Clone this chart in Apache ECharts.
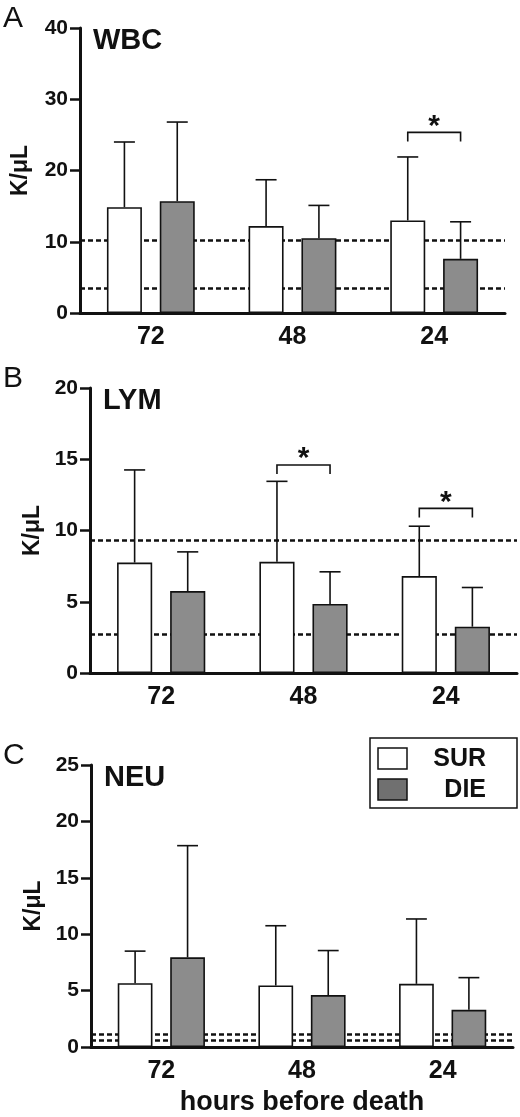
<!DOCTYPE html>
<html>
<head>
<meta charset="utf-8">
<script src="https://cdn.jsdelivr.net/npm/echarts@6/dist/echarts.min.js"></script>
<style>
  html, body { margin: 0; padding: 0; background: #fff; }
  #main { width: 520px; height: 1117px; }
</style>
</head>
<body>
<div id="main"></div>
<script>
// categories (hours before death)
var hours = ['72', '48', '24'];

// WBC (K/uL): mean and top of error bar
var wbcSur = [14.85, 12.2, 13.0];
var wbcSurTop = [24.0, 18.7, 21.9];
var wbcDie = [15.7, 10.5, 7.6];
var wbcDieTop = [26.8, 15.1, 12.8];
var wbcRef = [10.2, 3.5];
var wbcSig = [[2, 25.35]];

// LYM
var lymSur = [7.75, 7.8, 6.8];
var lymSurTop = [14.25, 13.45, 10.3];
var lymDie = [5.75, 4.85, 3.25];
var lymDieTop = [8.5, 7.1, 6.0];
var lymRef = [9.35, 2.7];
var lymSig = [[1, 14.6], [2, 11.55]];

// NEU
var neuSur = [5.65, 5.45, 5.6];
var neuSurTop = [8.5, 10.75, 11.35];
var neuDie = [7.95, 4.6, 3.3];
var neuDieTop = [17.85, 8.55, 6.15];
var neuRef = [1.15, 0.6];
var neuSig = [];

var yMax = [40, 20, 25];
var yStep = [10, 5, 5];
var titles = ['WBC', 'LYM', 'NEU'];
var letters = ['A', 'B', 'C'];

var FONT = 'Liberation Sans, Arial, Helvetica, sans-serif';
var INK = '#111';
var GREY = '#8c8c8c';
var BAR = 0.247;   // bar width as part of band
var GAP = 0.51;    // gap between the two bars, part of bar width

var chart = echarts.init(document.getElementById('main'));

function zip(a, b) {
  return a.map(function (v, i) { return [i, v, b[i]]; });
}

// error bar (upper only) drawn over bar
function errItem(side) {
  return function (params, api) {
    var i = api.value(0);
    var band = api.size([1, 0])[0];
    var bw = band * BAR;
    var off = side * (bw + bw * GAP) / 2;
    var p0 = api.coord([i, api.value(1)]);
    var p1 = api.coord([i, api.value(2)]);
    var x = p0[0] + off;
    var cap = bw * 0.3;
    var st = { stroke: INK, lineWidth: 1.6 };
    return {
      type: 'group',
      children: [
        { type: 'line', shape: { x1: x, y1: p0[1], x2: x, y2: p1[1] }, style: st },
        { type: 'line', shape: { x1: x - cap, y1: p1[1], x2: x + cap, y2: p1[1] }, style: st }
      ]
    };
  };
}

// significance bracket + star
function sigItem(params, api) {
  var i = api.value(0);
  var band = api.size([1, 0])[0];
  var bw = band * BAR;
  var off = (bw + bw * GAP) / 2;
  var p = api.coord([i, api.value(1)]);
  var x1 = p[0] - off, x2 = p[0] + off, y = p[1];
  return {
    type: 'group',
    children: [
      { type: 'polyline', shape: { points: [[x1, y + 9], [x1, y], [x2, y], [x2, y + 9]] },
        style: { stroke: INK, lineWidth: 1.6, fill: null } },
      { type: 'text', x: p[0], y: y - 6,
        style: { text: '*', fill: INK, font: 'bold 30px ' + FONT, align: 'center', verticalAlign: 'middle' } }
    ]
  };
}

var grids = [
  { left: 80, width: 425, top: 28, height: 285 },
  { left: 90, width: 427, top: 388, height: 285 },
  { left: 91, width: 422, top: 765, height: 285 }
];
var nameGaps = [48, 43, 43];

var panels = [
  [wbcSur, wbcSurTop, wbcDie, wbcDieTop, wbcRef, wbcSig],
  [lymSur, lymSurTop, lymDie, lymDieTop, lymRef, lymSig],
  [neuSur, neuSurTop, neuDie, neuDieTop, neuRef, neuSig]
];

var xAxes = [], yAxes = [], series = [], graphics = [];

panels.forEach(function (pd, k) {
  xAxes.push({
    type: 'category', gridIndex: k, data: hours,
    axisLine: { lineStyle: { color: INK, width: 3 } },
    axisTick: { show: false },
    axisLabel: { color: INK, fontSize: 25, fontWeight: 'bold', fontFamily: FONT, margin: 12 },
    name: k === 2 ? 'hours before death' : '',
    nameLocation: 'middle', nameGap: 42,
    nameTextStyle: { color: INK, fontSize: 27, fontWeight: 'bold', fontFamily: FONT }
  });
  yAxes.push({
    type: 'value', gridIndex: k, min: 0, max: yMax[k], interval: yStep[k],
    splitLine: { show: false },
    axisLine: { show: true, lineStyle: { color: INK, width: 3 } },
    axisTick: { show: true, length: 10, lineStyle: { color: INK, width: 2.5 } },
    axisLabel: { color: INK, fontSize: 21, fontWeight: 'bold', fontFamily: FONT, margin: 12 },
    name: 'K/μL', nameLocation: 'middle', nameGap: nameGaps[k],
    nameTextStyle: { color: INK, fontSize: 23, fontWeight: 'bold', fontFamily: FONT }
  });

  // dashed reference ranges, behind bars
  series.push({
    type: 'line', xAxisIndex: k, yAxisIndex: k, data: [], silent: true,
    markLine: {
      z: 1, silent: true, symbol: 'none', label: { show: false },
      lineStyle: { color: INK, type: [5, 3], width: 2.6 },
      data: pd[4].map(function (v) { return { yAxis: v }; })
    }
  });
  series.push({
    name: 'SUR', type: 'bar', xAxisIndex: k, yAxisIndex: k, z: 2,
    data: pd[0], barWidth: (BAR * 100) + '%', barGap: (GAP * 100) + '%',
    itemStyle: { color: '#fff', borderColor: INK, borderWidth: 1.6 }
  });
  series.push({
    name: 'DIE', type: 'bar', xAxisIndex: k, yAxisIndex: k, z: 2,
    data: pd[2], barWidth: (BAR * 100) + '%', barGap: (GAP * 100) + '%',
    itemStyle: { color: GREY, borderColor: INK, borderWidth: 1.6 }
  });
  series.push({
    type: 'custom', xAxisIndex: k, yAxisIndex: k, z: 3, silent: true,
    renderItem: errItem(-1), data: zip(pd[0], pd[1]), encode: { x: 0, y: [1, 2] }
  });
  series.push({
    type: 'custom', xAxisIndex: k, yAxisIndex: k, z: 3, silent: true,
    renderItem: errItem(1), data: zip(pd[2], pd[3]), encode: { x: 0, y: [1, 2] }
  });
  if (pd[5].length) {
    series.push({
      type: 'custom', xAxisIndex: k, yAxisIndex: k, z: 3, silent: true,
      renderItem: sigItem, data: pd[5], encode: { x: 0, y: 1 }
    });
  }

  var g = grids[k];
  graphics.push({
    type: 'text', left: 3, top: g.top - 24,
    style: { text: letters[k], fill: INK, font: '30px ' + FONT }
  });
  graphics.push({
    type: 'text', left: g.left + 13, top: g.top + 14 - 16,
    style: { text: titles[k], fill: INK, font: 'bold 29px ' + FONT }
  });
});

// legend box in panel C
graphics.push(
  { type: 'rect', shape: { x: 370, y: 738, width: 147, height: 70 },
    style: { fill: '#fff', stroke: INK, lineWidth: 1.5 }, z: 10 },
  { type: 'rect', shape: { x: 378, y: 748, width: 29, height: 21 },
    style: { fill: '#fff', stroke: INK, lineWidth: 1.5 }, z: 11 },
  { type: 'rect', shape: { x: 378, y: 779, width: 29, height: 21 },
    style: { fill: '#707070', stroke: INK, lineWidth: 1.5 }, z: 11 },
  { type: 'text', x: 486, y: 759, z: 11,
    style: { text: 'SUR', fill: INK, font: 'bold 25px ' + FONT, align: 'right', verticalAlign: 'middle' } },
  { type: 'text', x: 486, y: 790, z: 11,
    style: { text: 'DIE', fill: INK, font: 'bold 25px ' + FONT, align: 'right', verticalAlign: 'middle' } }
);

chart.setOption({
  backgroundColor: '#fff',
  animation: false,
  grid: grids,
  xAxis: xAxes,
  yAxis: yAxes,
  series: series,
  graphic: graphics
});
</script>
</body>
</html>
